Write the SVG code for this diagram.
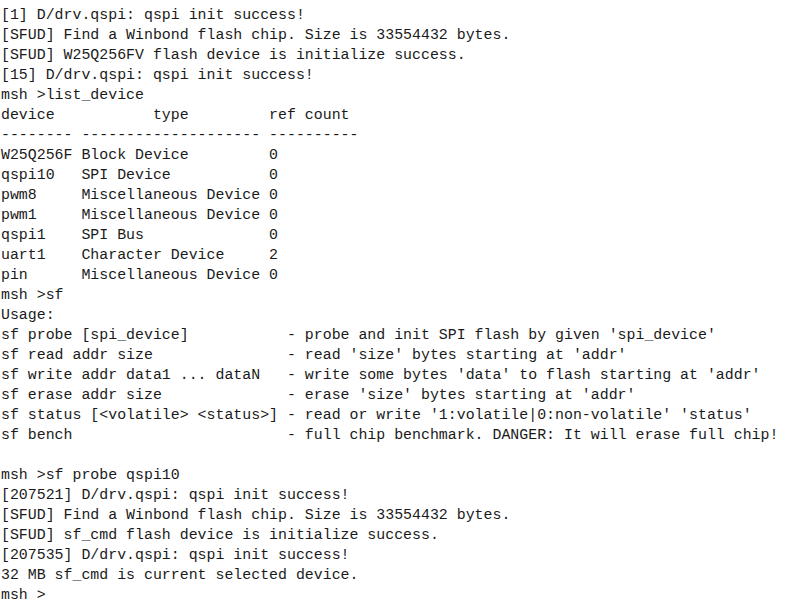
<svg xmlns="http://www.w3.org/2000/svg" width="799" height="606" viewBox="0 0 799 606">
<style>text{font-family:"Liberation Mono","DejaVu Sans Mono",monospace;font-size:14.9px;fill:#1a1a1a;white-space:pre}</style>
<rect width="799" height="606" fill="#fff"/>
<g xml:space="preserve">
<text x="1" y="19">[1] D/drv.qspi: qspi init success!</text>
<text x="1" y="39">[SFUD] Find a Winbond flash chip. Size is 33554432 bytes.</text>
<text x="1" y="59">[SFUD] W25Q256FV flash device is initialize success.</text>
<text x="1" y="79">[15] D/drv.qspi: qspi init success!</text>
<text x="1" y="99">msh &gt;list_device</text>
<text x="1" y="119">device           type         ref count</text>
<text x="1" y="139">-------- -------------------- ----------</text>
<text x="1" y="159">W25Q256F Block Device         0</text>
<text x="1" y="179">qspi10   SPI Device           0</text>
<text x="1" y="199">pwm8     Miscellaneous Device 0</text>
<text x="1" y="219">pwm1     Miscellaneous Device 0</text>
<text x="1" y="239">qspi1    SPI Bus              0</text>
<text x="1" y="259">uart1    Character Device     2</text>
<text x="1" y="279">pin      Miscellaneous Device 0</text>
<text x="1" y="299">msh &gt;sf</text>
<text x="1" y="319">Usage:</text>
<text x="1" y="339">sf probe [spi_device]           - probe and init SPI flash by given 'spi_device'</text>
<text x="1" y="359">sf read addr size               - read 'size' bytes starting at 'addr'</text>
<text x="1" y="379">sf write addr data1 ... dataN   - write some bytes 'data' to flash starting at 'addr'</text>
<text x="1" y="399">sf erase addr size              - erase 'size' bytes starting at 'addr'</text>
<text x="1" y="419">sf status [&lt;volatile&gt; &lt;status&gt;] - read or write '1:volatile|0:non-volatile' 'status'</text>
<text x="1" y="439">sf bench                        - full chip benchmark. DANGER: It will erase full chip!</text>
<text x="1" y="479">msh &gt;sf probe qspi10</text>
<text x="1" y="499">[207521] D/drv.qspi: qspi init success!</text>
<text x="1" y="519">[SFUD] Find a Winbond flash chip. Size is 33554432 bytes.</text>
<text x="1" y="539">[SFUD] sf_cmd flash device is initialize success.</text>
<text x="1" y="559">[207535] D/drv.qspi: qspi init success!</text>
<text x="1" y="579">32 MB sf_cmd is current selected device.</text>
<text x="1" y="599">msh &gt;</text>
</g>
</svg>
